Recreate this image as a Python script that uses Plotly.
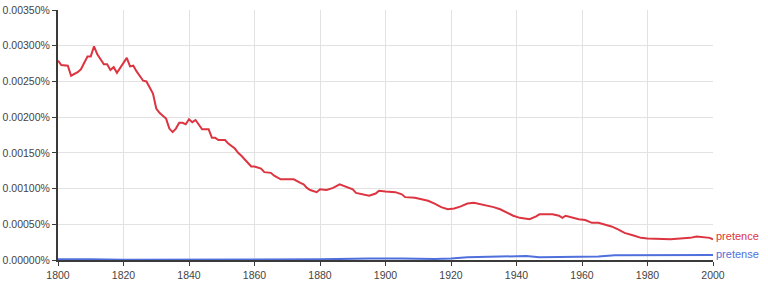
import plotly.graph_objects as go

# pretence (red)
pretence_years = [1800, 1801, 1803, 1804, 1806, 1807, 1809, 1810, 1811, 1812, 1814, 1815, 1816, 1817, 1818,
                  1820, 1821, 1822, 1823, 1824, 1826, 1827, 1829, 1830, 1831, 1832, 1833, 1834, 1835, 1836,
                  1837, 1838, 1839, 1840, 1841, 1842, 1844, 1846, 1847, 1848, 1849, 1851, 1852, 1854, 1855,
                  1856, 1857, 1859, 1860, 1861, 1862, 1863, 1865, 1866, 1868, 1869, 1872, 1874, 1875, 1876,
                  1877, 1879, 1880, 1882, 1884, 1886, 1888, 1890, 1891, 1893, 1895, 1897, 1898, 1900, 1903,
                  1905, 1906, 1909, 1911, 1913, 1915, 1917, 1919, 1920, 1921, 1923, 1925, 1927, 1929, 1931,
                  1933, 1935, 1937, 1939, 1941, 1943, 1944, 1946, 1947, 1949, 1951, 1953, 1954, 1955, 1957,
                  1959, 1961, 1963, 1965, 1967, 1969, 1971, 1973, 1976, 1978, 1980, 1984, 1987, 1990, 1993,
                  1995, 1997, 1999, 2000]
pretence_values = [0.00279, 0.00273, 0.00272, 0.00258, 0.00263, 0.00267, 0.00285, 0.00285, 0.00299, 0.00288,
                   0.00274, 0.00274, 0.00266, 0.00270, 0.00262, 0.00277, 0.00283, 0.00271, 0.00272, 0.00264,
                   0.00251, 0.00250, 0.00233, 0.00212, 0.00206, 0.00202, 0.00198, 0.00184, 0.00179, 0.00184,
                   0.00192, 0.00192, 0.00190, 0.00197, 0.00193, 0.00196, 0.00183, 0.00183, 0.00171, 0.00171,
                   0.00168, 0.00168, 0.00163, 0.00156, 0.00150, 0.00146, 0.00141, 0.00131, 0.00131, 0.00130,
                   0.00128, 0.00123, 0.00122, 0.00118, 0.00113, 0.00113, 0.00113, 0.00108, 0.00106, 0.00101,
                   0.00098, 0.00095, 0.00099, 0.00098, 0.00101, 0.00106, 0.00102, 0.00099, 0.00094, 0.00092,
                   0.00090, 0.00093, 0.00097, 0.00096, 0.00095, 0.00092, 0.00088, 0.00087, 0.00085, 0.00083,
                   0.00079, 0.00074, 0.00071, 0.00071, 0.00072, 0.00075, 0.00079, 0.00080, 0.00078, 0.00077,
                   0.00074, 0.00071, 0.00066, 0.00062, 0.00059, 0.00057, 0.00057, 0.00061, 0.00064, 0.00064,
                   0.00064, 0.00062, 0.00059, 0.00062, 0.00059, 0.00057, 0.00056, 0.00052, 0.00052, 0.00050,
                   0.00047, 0.00043, 0.00038, 0.00034, 0.00031, 0.00030, 0.00029, 0.00029, 0.00030, 0.00031,
                   0.00033, 0.00032, 0.00031, 0.00029]

# pretense (blue)
pretense_years = [1800, 1805, 1810, 1820, 1840, 1860, 1880, 1895, 1900, 1905, 1915, 1920, 1925, 1930, 1935,
                  1940, 1943, 1947, 1955, 1965, 1970, 1975, 1980, 1985, 1990, 2000]
pretense_values = [0.000010, 0.000015, 0.000012, 0.000005, 0.000005, 0.000012, 0.000010, 0.000020, 0.000025,
                   0.000020, 0.000015, 0.000020, 0.000040, 0.000045, 0.000045, 0.000055, 0.000055, 0.000040,
                   0.000045, 0.000050, 0.000065, 0.000065, 0.000075, 0.000065, 0.000068, 0.000070]

x_ticks = [1800, 1820, 1840, 1860, 1880, 1900, 1920, 1940, 1960, 1980, 2000]
y_ticks = [0.0, 0.0005, 0.0010, 0.0015, 0.0020, 0.0025, 0.0030, 0.0035]
y_tick_labels = ["0.00000%", "0.00050%", "0.00100%", "0.00150%", "0.00200%", "0.00250%", "0.00300%", "0.00350%"]

RED = "#dc3440"
BLUE = "#4f70dc"
FONT = "Liberation Sans, Arial, sans-serif"

fig = go.Figure()
fig.add_trace(go.Scatter(x=pretense_years, y=pretense_values, mode="lines",
                         line=dict(color=BLUE, width=2), name="pretense", hoverinfo="skip"))
fig.add_trace(go.Scatter(x=pretence_years, y=pretence_values, mode="lines",
                         line=dict(color=RED, width=2), name="pretence", hoverinfo="skip"))

fig.add_annotation(x=2000, y=pretence_values[-1], xref="x", yref="y", text="pretence",
                   showarrow=False, xanchor="left", yanchor="middle", xshift=1, yshift=3,
                   font=dict(color=RED, size=11, family=FONT))
fig.add_annotation(x=2000, y=pretense_values[-1], xref="x", yref="y", text="pretense",
                   showarrow=False, xanchor="left", yanchor="middle", xshift=1, yshift=1,
                   font=dict(color=BLUE, size=11, family=FONT))

fig.update_layout(
    width=768, height=283,
    margin=dict(l=58, r=55, t=10, b=23, autoexpand=False),
    paper_bgcolor="white", plot_bgcolor="white",
    showlegend=False,
    font=dict(family=FONT, size=10.5, color="#444444"),
    xaxis=dict(range=[1800, 2000], tickvals=x_ticks, ticktext=[str(t) for t in x_ticks],
               showgrid=True, gridcolor="#e2e2e2", gridwidth=1, automargin=False,
               showline=True, linecolor="#3a3a3a", linewidth=2,
               ticks="outside", ticklen=4, tickcolor="#3a3a3a", zeroline=False),
    yaxis=dict(range=[0, 0.0035], tickvals=y_ticks, ticktext=y_tick_labels,
               showgrid=True, gridcolor="#e2e2e2", gridwidth=1, automargin=False,
               showline=True, linecolor="#3a3a3a", linewidth=2,
               ticks="outside", ticklen=4, tickcolor="#3a3a3a", zeroline=False),
)

fig.write_html("out.html")
